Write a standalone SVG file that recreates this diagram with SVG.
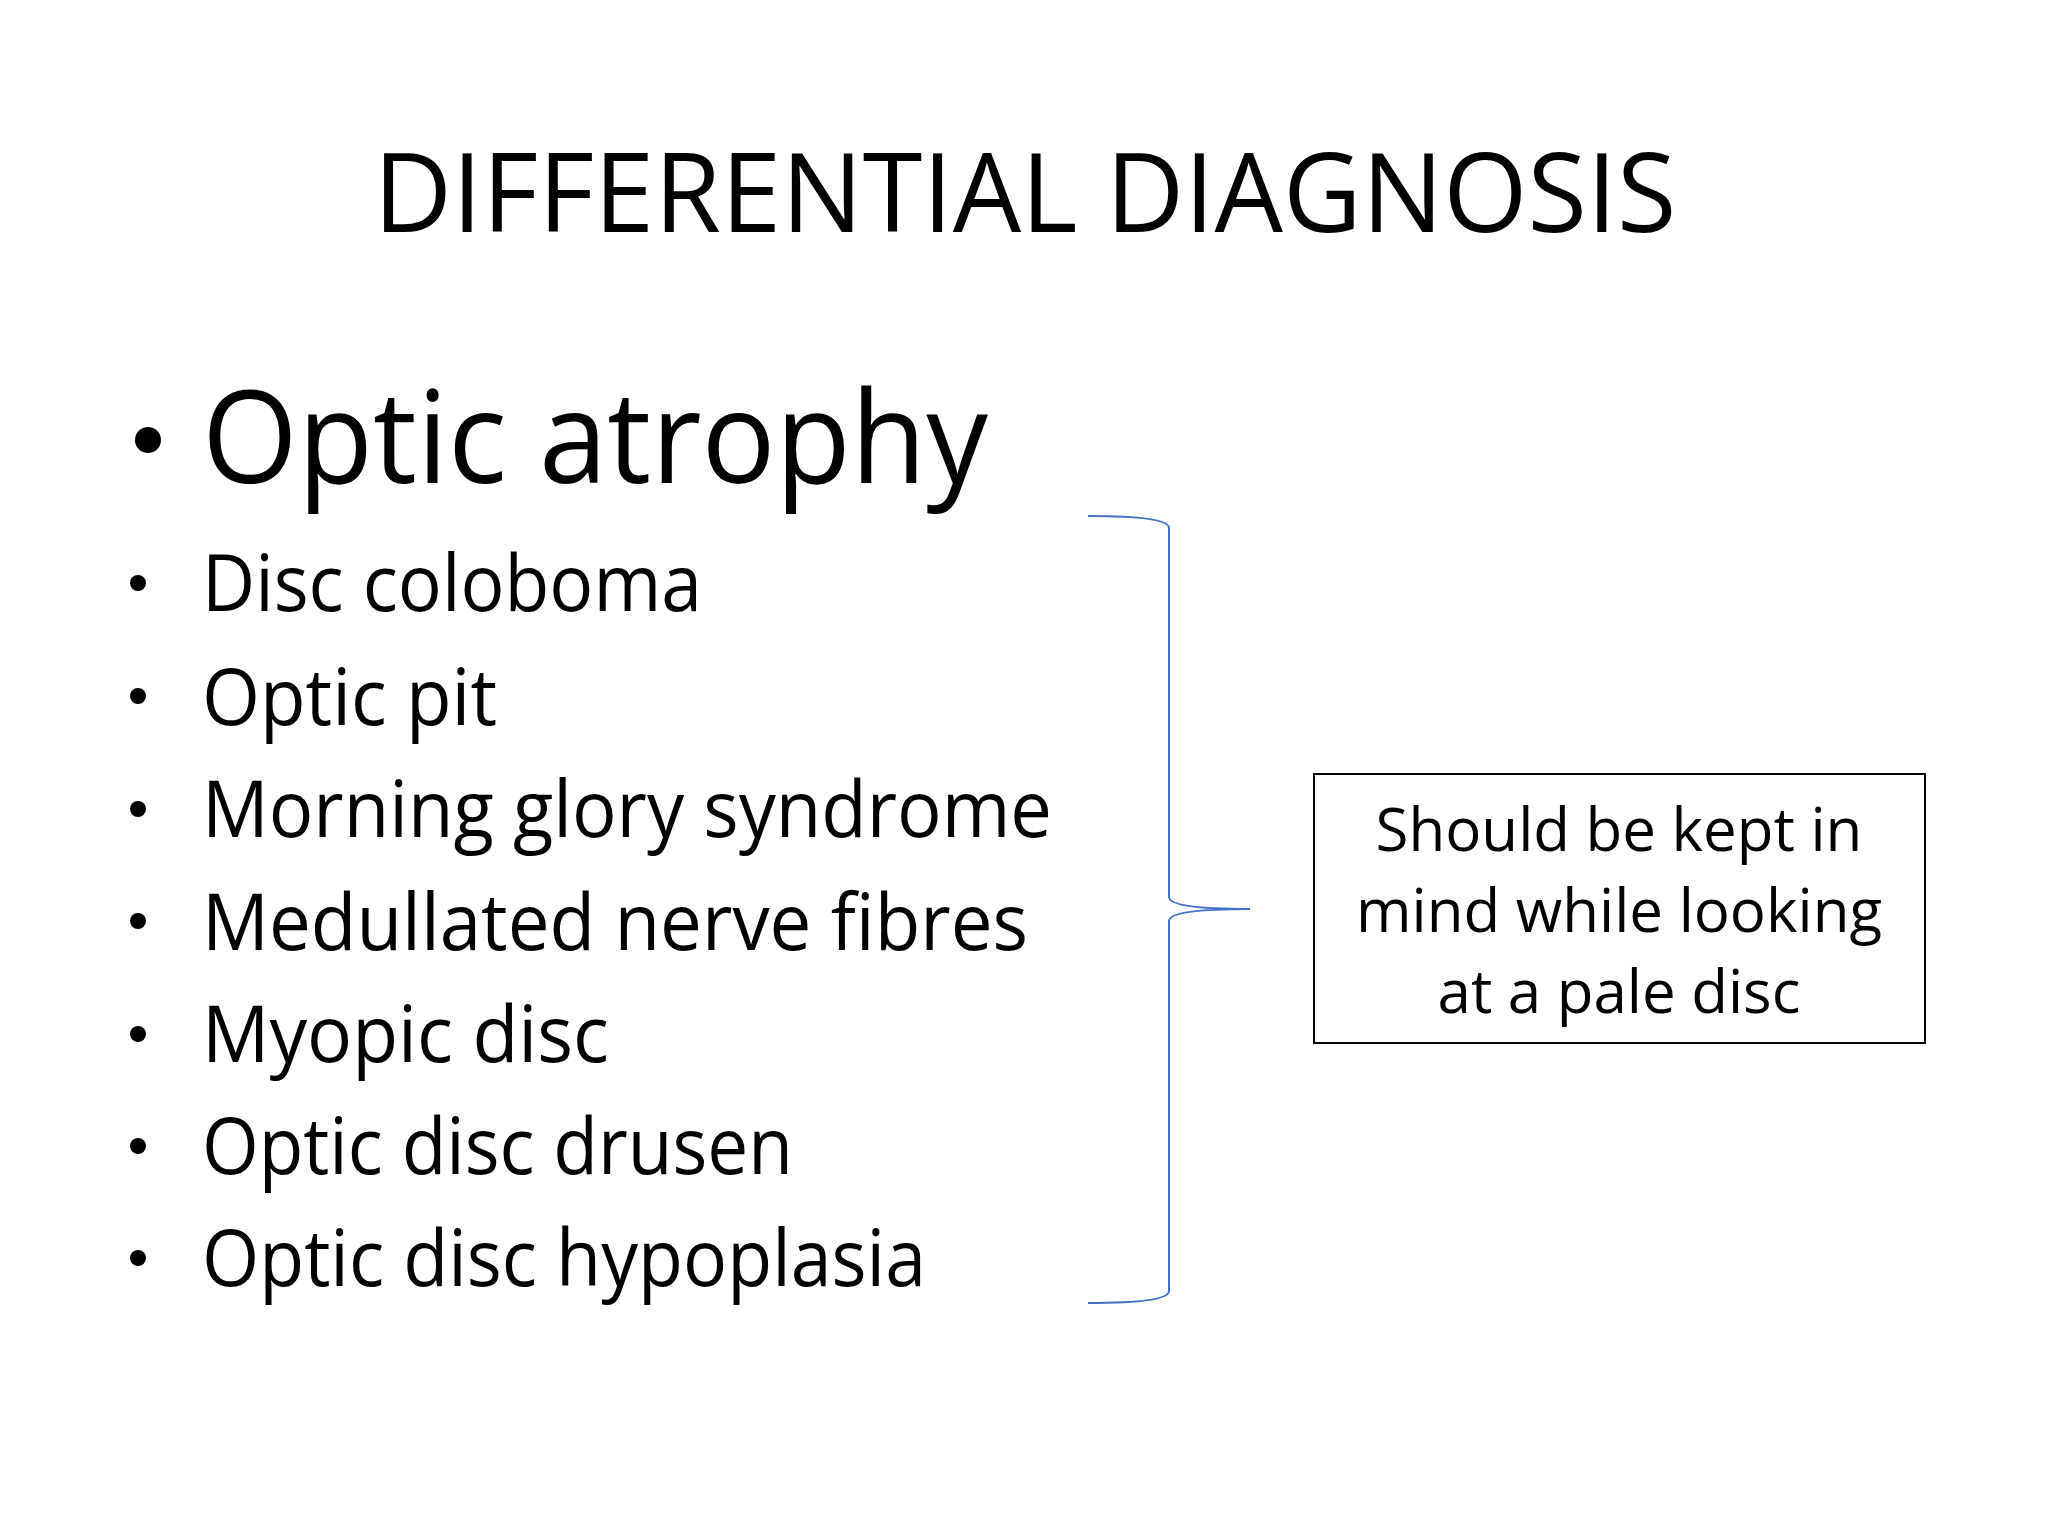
<svg xmlns="http://www.w3.org/2000/svg" width="2048" height="1536" viewBox="0 0 2048 1536">
<style>
text{font-family:"Open Sans","Noto Sans","Liberation Sans",sans-serif;fill:#000}
.item{font-size:78px}
.bul{font-size:78px}
.box{font-size:60px;text-anchor:middle}
</style>
<rect width="2048" height="1536" fill="#fff"/>
<g id="title"><text x="1025" y="232" font-size="110" text-anchor="middle" textLength="1303" lengthAdjust="spacingAndGlyphs">DIFFERENTIAL DIAGNOSIS</text></g>
<g id="list">
<circle cx="148" cy="440" r="13"/>
<text x="202" y="483" font-size="128" textLength="786" lengthAdjust="spacingAndGlyphs">Optic atrophy</text>
<g id="items">
<circle cx="138" cy="583" r="8"/><text class="item" x="202" y="611" textLength="500" lengthAdjust="spacingAndGlyphs">Disc coloboma</text>
<circle cx="138" cy="696" r="8"/><text class="item" x="202" y="725" textLength="295" lengthAdjust="spacingAndGlyphs">Optic pit</text>
<circle cx="138" cy="809" r="8"/><text class="item" x="202" y="837" textLength="850" lengthAdjust="spacingAndGlyphs">Morning glory syndrome</text>
<circle cx="138" cy="921" r="8"/><text class="item" x="202" y="950" textLength="826" lengthAdjust="spacingAndGlyphs">Medullated nerve fibres</text>
<circle cx="138" cy="1034" r="8"/><text class="item" x="202" y="1062" textLength="407" lengthAdjust="spacingAndGlyphs">Myopic disc</text>
<circle cx="138" cy="1146" r="8"/><text class="item" x="202" y="1174" textLength="591" lengthAdjust="spacingAndGlyphs">Optic disc drusen</text>
<circle cx="138" cy="1258" r="8"/><text class="item" x="202" y="1286" textLength="724" lengthAdjust="spacingAndGlyphs">Optic disc hypoplasia</text>
</g>
</g>
<g id="connectors">
<path d="M1088 516 Q1169 516 1169 528 L1169 897 Q1169 909 1250 909 Q1169 909 1169 921 L1169 1291 Q1169 1303 1088 1303" fill="none" stroke="#4472C4" stroke-width="2"/>
</g>
<g id="note">
<rect x="1314" y="774" width="611" height="269" fill="#fff" stroke="#000" stroke-width="2"/>
<text class="box" x="1619" y="851">Should be kept in</text>
<text class="box" x="1619" y="932">mind while looking</text>
<text class="box" x="1619" y="1013">at a pale disc</text>
</g>
</svg>
